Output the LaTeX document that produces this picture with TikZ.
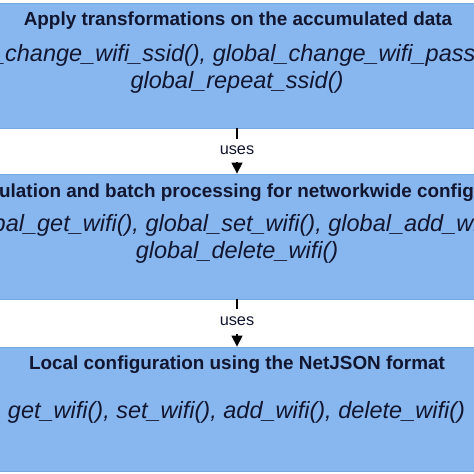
\documentclass[tikz,border=0pt]{standalone}
\usepackage{fontspec}
\setmainfont{Liberation Sans}
\usetikzlibrary{arrows.meta}
\definecolor{boxfill}{RGB}{135,183,238}
\definecolor{boxedge}{RGB}{118,168,228}
\definecolor{ink}{RGB}{18,22,48}
\begin{document}
\begin{tikzpicture}[x=1pt,y=-1pt,
  panel/.style={draw=boxedge, line width=0.8pt, fill=boxfill, minimum width=540pt, minimum height=125pt, inner sep=0pt},
  ttl/.style={font=\fontsize{18.9}{20}\selectfont\bfseries, text=ink, anchor=base, inner sep=0pt},
  fn/.style={font=\fontsize{23.5}{25}\selectfont\itshape, text=ink, anchor=base, inner sep=0pt},
  lbl/.style={font=\fontsize{16.3}{18}\selectfont, text=ink, inner sep=0pt},
  link/.style={line width=1.3pt, draw=black},
  arr/.style={link, -{Triangle[width=11pt,length=11pt]}}]
\useasboundingbox (0,0) rectangle (474,474);
\clip (0,0) rectangle (474,474);
\fill[white] (0,0) rectangle (474,474);
\node[panel] (b1) at (237,65.5) {};
\node[panel] (b2) at (237,236.5) {};
\node[panel, minimum height=124pt] (b3) at (237,409) {};
\node[ttl] (t1) at (238,25.3) {Apply transformations on the accumulated data};
\node[fn] (f1a) at (239,61.7) {global\_change\_wifi\_ssid(), global\_change\_wifi\_password(),};
\node[fn] (f1b) at (237,88.3) {global\_repeat\_ssid()};
\node[ttl] (t2) at (237,197.3) {Accumulation and batch processing for networkwide configuration};
\node[fn] (f2a) at (237,231.7) {global\_get\_wifi(), global\_set\_wifi(), global\_add\_wifi(),};
\node[fn] (f2b) at (237,258.3) {global\_delete\_wifi()};
\node[ttl] (t3) at (237,369.3) {Local configuration using the NetJSON format};
\node[fn] (f3) at (236.5,418.3) {get\_wifi(), set\_wifi(), add\_wifi(), delete\_wifi()};
\node[lbl, minimum height=22.7pt] (u1) at (237,150.3) {uses};
\node[lbl, minimum height=25pt] (u2) at (237,321.5) {uses};
\draw[link] (b1) -- (u1);
\draw[arr] (u1) -- (b2);
\draw[link] (b2) -- (u2);
\draw[arr] (u2) -- (b3);
\end{tikzpicture}
\end{document}
